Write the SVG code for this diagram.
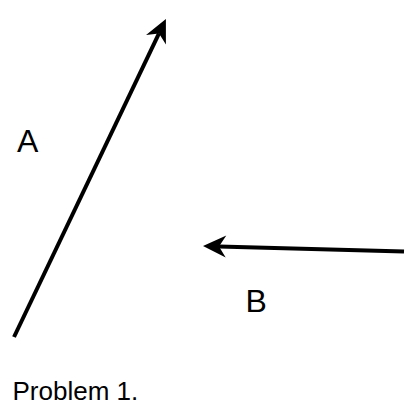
<svg xmlns="http://www.w3.org/2000/svg" width="414" height="412" viewBox="0 0 414 412">
<defs>
<style>
.conn{stroke:#000;stroke-width:4;fill:none;marker-end:url(#ah)}
.lbl{font-family:"Liberation Sans",Arial,sans-serif;fill:#000}
</style>
<marker id="ah" markerUnits="userSpaceOnUse" viewBox="-8 -12 26 24" refX="0" refY="0" markerWidth="26" markerHeight="24" orient="auto">
<path d="M16,0 L-7,-11 L0,0 L-7,11 Z" fill="#000"/>
</marker>
</defs>
<rect width="414" height="412" fill="#fff"/>
<g id="connectors">
<path id="vecA" class="conn" d="M14,337 L159,33.4"/>
<path id="vecB" class="conn" d="M404,251.5 L219,246.4"/>
</g>
<g id="labelA"><text class="lbl" x="17" y="152" font-size="32">A</text></g>
<g id="labelB"><text class="lbl" x="245.5" y="312" font-size="32">B</text></g>
<g id="caption"><text class="lbl" x="12.5" y="400" font-size="26">Problem 1.</text></g>
</svg>
